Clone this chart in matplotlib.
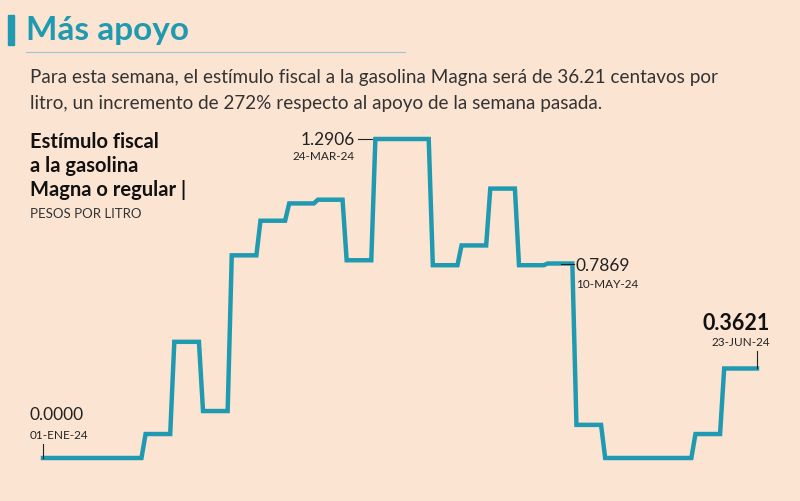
import matplotlib
matplotlib.use("Agg")
import matplotlib.pyplot as plt
import datetime as dt

plt.rcParams['font.family'] = ['Lato', 'DejaVu Sans']

# Weekly change dates and stimulus values (pesos por litro)
change_dates = ["2024-01-01", "2024-01-26", "2024-02-02", "2024-02-09", "2024-02-16",
                "2024-02-23", "2024-03-01", "2024-03-08", "2024-03-15", "2024-03-22",
                "2024-04-05", "2024-04-12", "2024-04-19", "2024-04-26", "2024-05-03",
                "2024-05-10", "2024-05-17", "2024-06-08", "2024-06-15"]
values = [0.0, 0.097, 0.47, 0.19, 0.82, 0.96, 1.03, 1.045, 0.80, 1.2906,
          0.78, 0.86, 1.09, 0.78, 0.7869, 0.134, 0.0, 0.097, 0.3621]
end_date = "2024-06-23"

d = [dt.date.fromisoformat(s) for s in change_dates]
d_end = dt.date.fromisoformat(end_date)
xs, ys = [], []
for i, v in enumerate(values):
    start = d[i]
    stop = (d[i+1] - dt.timedelta(days=1)) if i + 1 < len(d) else d_end
    xs += [start, stop]
    ys += [v, v]
x0 = d[0]
xn = [(x - x0).days for x in xs]

W, H = 800, 502
fig = plt.figure(figsize=(8, 5.02), dpi=100)
fig.patch.set_facecolor('#fce4d3')
teal = '#1f9ab0'

def fx(px): return px / W
def fy(py): return 1 - py / H

ax = fig.add_axes([fx(43), fy(459), fx(757) - fx(43), fy(140) - fy(459)])
ax.set_facecolor('none')
ax.plot(xn, ys, color=teal, lw=3.2, solid_joinstyle='miter', clip_on=False)
ax.set_xlim(0, (d_end - x0).days)
ax.set_ylim(0, 1.2906)
ax.axis('off')

fig.patches.append(plt.Rectangle((fx(8), fy(46)), fx(6), fy(16) - fy(46), transform=fig.transFigure,
                                 color=teal))
fig.text(fx(26), fy(31), "Más apoyo", color=teal, fontsize=24, fontweight='bold', va='center')
fig.add_artist(plt.Line2D([fx(26), fx(405)], [fy(53), fy(53)], color='#9cc7d0', lw=0.8))
fig.text(fx(30), fy(78), "Para esta semana, el estímulo fiscal a la gasolina Magna será de 36.21 centavos por",
         fontsize=13.6, color='#333333', va='center')
fig.text(fx(30), fy(103), "litro, un incremento de 272% respecto al apoyo de la semana pasada.",
         fontsize=13.6, color='#333333', va='center')

for yy, t in [(142, "Estímulo fiscal"), (166, "a la gasolina"), (190, "Magna o regular |")]:
    fig.text(fx(30), fy(yy), t, fontsize=14.5, fontweight='bold', color='#111111', va='center')
fig.text(fx(30), fy(214), "PESOS POR LITRO", fontsize=9.5, color='#333333', va='center')

def ln(x1, y1, x2, y2):
    fig.add_artist(plt.Line2D([fx(x1), fx(x2)], [fy(y1), fy(y2)], color='#222222', lw=0.8))

fig.text(fx(30), fy(415), "0.0000", fontsize=12.5, color='#222222', va='center')
fig.text(fx(30), fy(436), "01-ENE-24", fontsize=8.5, color='#222222', va='center')
ln(43, 445, 43, 459)

fig.text(fx(355), fy(140), "1.2906", fontsize=12.5, color='#222222', va='center', ha='right')
fig.text(fx(355), fy(157), "24-MAR-24", fontsize=8.5, color='#222222', va='center', ha='right')
ln(358, 140, 372, 140)

fig.text(fx(576), fy(266), "0.7869", fontsize=12.5, color='#222222', va='center')
fig.text(fx(576), fy(284), "10-MAY-24", fontsize=8.5, color='#222222', va='center')
ln(561, 265, 574, 265)

fig.text(fx(770), fy(324), "0.3621", fontsize=15.5, fontweight='bold', color='#111111', va='center', ha='right')
fig.text(fx(770), fy(343), "23-JUN-24", fontsize=8.5, color='#222222', va='center', ha='right')
ln(757, 352, 757, 369)

fig.savefig("out.png", dpi=100, facecolor=fig.get_facecolor())
